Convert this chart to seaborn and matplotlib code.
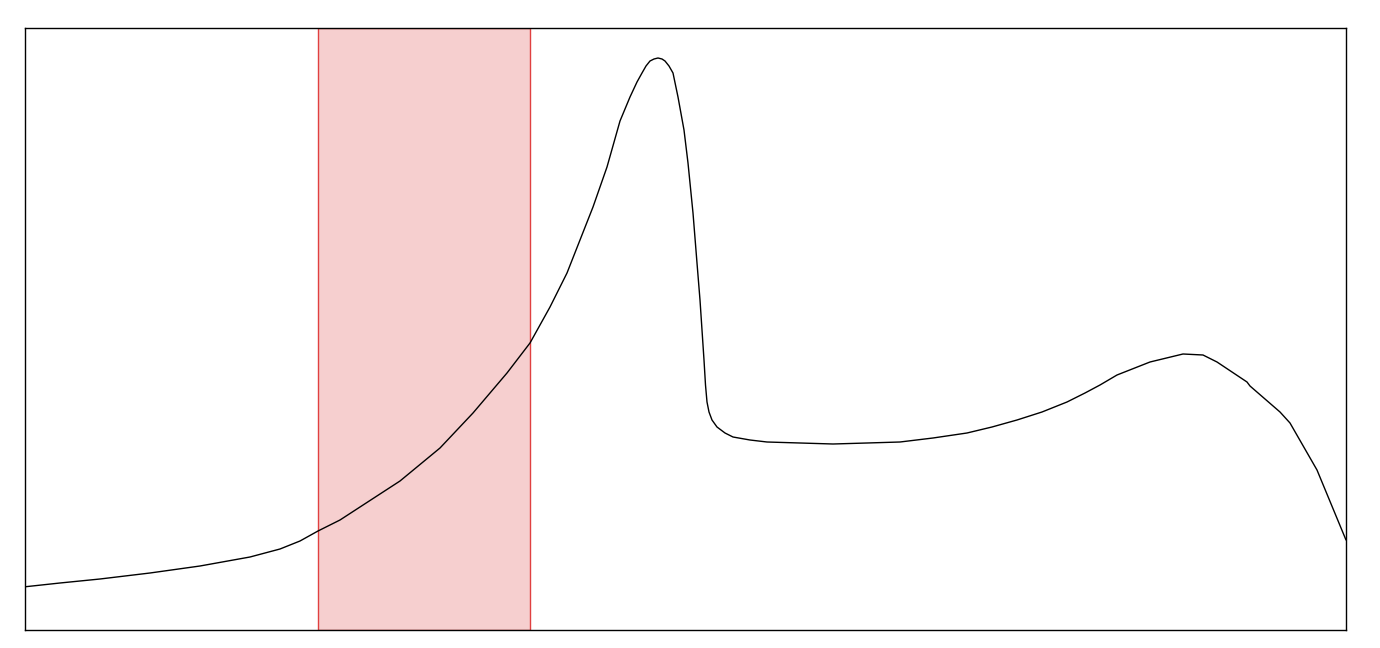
import matplotlib
matplotlib.use("Agg")
import matplotlib.pyplot as plt
import seaborn as sns
import pandas as pd

# curve values (x position, height above the bottom frame)
x_vals = [23, 60, 100, 150, 200, 250, 280, 300, 318, 340, 360, 400, 440, 473,
          507, 530, 550, 567, 580, 593, 607, 620, 630, 637, 642, 646, 650, 654,
          658, 662, 665, 669, 673, 678, 684, 688, 693, 697, 700, 702, 704, 705.5,
          707, 709, 712, 717, 725, 733, 750, 767, 800, 833, 867, 900, 933, 967,
          992, 1017, 1042, 1067, 1085, 1100, 1117, 1150, 1183, 1203, 1217,
          1247, 1250, 1280, 1290, 1317, 1346]
y_vals = [43, 47, 51, 57, 64, 73, 81, 89, 99, 110, 123, 149, 182, 217,
          257, 287, 323, 357, 390, 423, 463, 509, 533, 548, 557, 564, 569, 571,
          572, 571, 569, 564, 557, 533, 500, 467, 417, 367, 330, 300, 270, 245,
          228, 218, 210, 203, 197, 193, 190, 188, 187, 186, 187, 188, 192, 197,
          203, 210, 218, 228, 237, 245, 255, 268, 276, 275, 268,
          248, 244, 218, 207, 160, 90]

# highlighted band
band_start = 318
band_end = 530

df = pd.DataFrame({"x": x_vals, "y": y_vals})

sns.set_style("white")
fig = plt.figure(figsize=(13.8, 6.48), dpi=100)
ax = fig.add_axes([25 / 1380, 18 / 648, 1321 / 1380, 602 / 648])

ax.axvspan(band_start, band_end, facecolor=(214 / 255, 39 / 255, 40 / 255, 0.22),
           edgecolor=(0.88, 0.25, 0.25, 1.0), linewidth=1.0, zorder=1)
sns.lineplot(data=df, x="x", y="y", sort=False, color="black", linewidth=1.0,
             ax=ax, zorder=3)

ax.set_xlim(25, 1346)
ax.set_ylim(0, 602)
ax.set_xticks([])
ax.set_yticks([])
ax.set_xlabel("")
ax.set_ylabel("")
for side in ax.spines.values():
    side.set_visible(True)
    side.set_color("black")
    side.set_linewidth(1.0)

fig.savefig("out.png", dpi=100)
